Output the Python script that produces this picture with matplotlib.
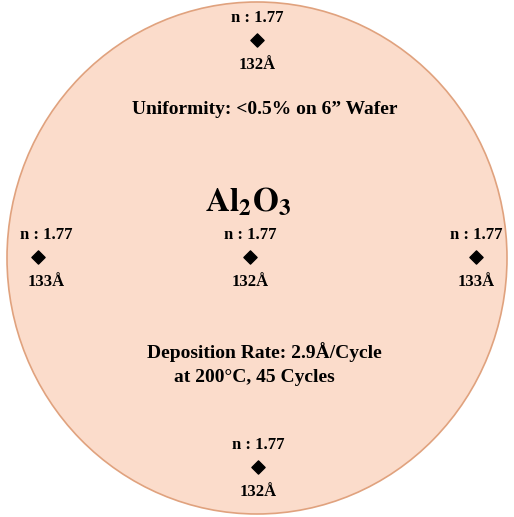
import matplotlib.pyplot as plt
from matplotlib.patches import Ellipse

# measurement points (pixel coords of the wafer image)
px = [257, 38, 250, 476, 258]
py = [40, 257, 257, 257, 467]
n_vals = ['1.77', '1.77', '1.77', '1.77', '1.77']
thick = ['132Å', '133Å', '132Å', '133Å', '132Å']

plt.rcParams['font.family'] = ['Liberation Serif', 'DejaVu Serif']
plt.rcParams['mathtext.fontset'] = 'stix'
fig = plt.figure(figsize=(5.14, 5.17), dpi=100)
ax = fig.add_axes([0, 0, 1, 1])
ax.set_xlim(0, 514)
ax.set_ylim(517, 0)
ax.axis('off')

ax.add_patch(Ellipse((257, 258), 500, 512, facecolor='#fbdccb', edgecolor='#e0a27e', lw=1.2))

ax.scatter(px, py, marker='D', s=45, color='black', zorder=3)
for x, y, n, t in zip(px, py, n_vals, thick):
    off = 8 if x < 100 else 0
    ax.text(x + off, y - 22, f'n : {n}', ha='center', va='center', fontsize=12, fontweight='bold')
    ax.text(x + off, y + 25, t, ha='center', va='center', fontsize=12, fontweight='bold')

ax.text(265, 109, 'Uniformity: <0.5% on 6\u201d Wafer', ha='center', va='center', fontsize=14, fontweight='bold')
ax.text(248, 202, r'$\mathbf{Al_2O_3}$', ha='center', va='center', fontsize=24)
ax.text(264, 352, 'Deposition Rate: 2.9Å/Cycle', ha='center', va='center', fontsize=14, fontweight='bold')
ax.text(254, 378, 'at 200°C, 45 Cycles', ha='center', va='center', fontsize=14, fontweight='bold')

fig.savefig('out.png', dpi=100)
